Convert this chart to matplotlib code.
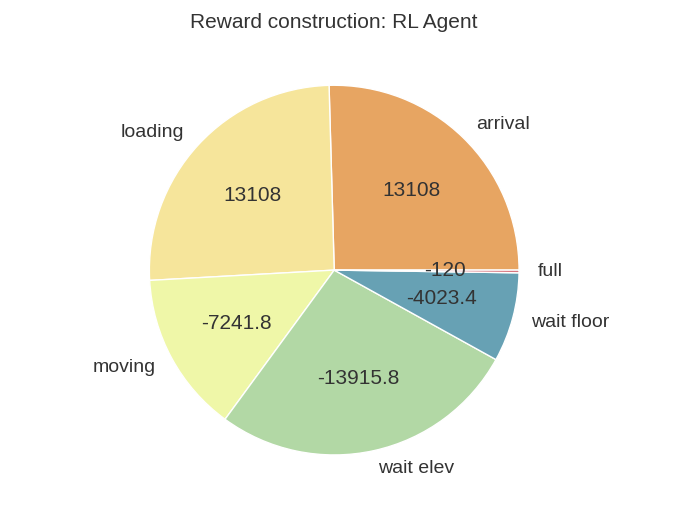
import numpy as np
import matplotlib
matplotlib.use("Agg")
import matplotlib.pyplot as plt
import seaborn as sns

# reward components (signed), pie uses magnitudes
labels = ["arrival", "loading", "moving", "wait elev", "wait floor", "full"]
values = [13108, 13108, -7241.8, -13915.8, -4023.4, -120]

sns.set_style("white")
plt.rcParams['font.family'] = ['Liberation Sans', 'DejaVu Sans']

colors = ['#e7a562', '#f6e59b', '#eff7a8', '#b2d8a5', '#67a1b4', '#d7777f']

sizes = np.abs(values)
vals_iter = iter(values)


def show_value(pct):
    v = next(vals_iter)
    return f"{v:g}"


fig = plt.figure(figsize=(6.97, 5.26), dpi=100)
ax = fig.add_axes([0.148, 0.047, 0.663, 0.879])
wedges, texts, autotexts = ax.pie(
    sizes, labels=labels, colors=colors, autopct=show_value,
    wedgeprops=dict(edgecolor='white', linewidth=1),
    textprops=dict(fontsize=14, color='#333333'))
for t in autotexts:
    t.set_fontsize(15)
ax.set_title("Reward construction: RL Agent", fontsize=15, color='#333333', pad=8)
plt.savefig("out.png", dpi=100)
